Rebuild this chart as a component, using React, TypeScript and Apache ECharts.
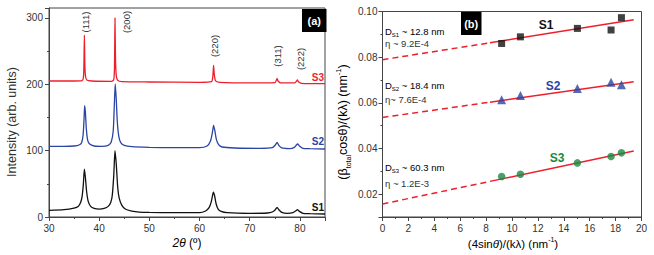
import React, { useEffect, useRef } from 'react';
import * as echarts from 'echarts';

// ---------- Panel (a): XRD patterns, [2θ, intensity] ----------
const xrdS1: [number, number][] = [
  [30, 10], [33, 11], [35, 13.5], [35.8, 16], [36.3, 22], [36.6, 31], [36.85, 50], [37.05, 72],
  [37.25, 60], [37.5, 38], [37.8, 24], [38.3, 16], [39, 13], [40, 12], [41, 13], [41.8, 16],
  [42.3, 22], [42.6, 32], [42.9, 62], [43.15, 100], [43.4, 80], [43.7, 44], [44.0, 28], [44.5, 18],
  [45.2, 12], [46.5, 9], [48, 7.5], [50, 7], [55, 6.5], [60, 6.5], [61.2, 9], [61.9, 14], [62.3, 22],
  [62.55, 31], [62.75, 37.5], [63.0, 32], [63.3, 20], [63.7, 12], [64.3, 8.5], [65.5, 6.5], [70, 5.5],
  [73.5, 6], [74.5, 7.5], [75.1, 11], [75.45, 14.5], [75.8, 11], [76.4, 7], [77.5, 5.5], [78.6, 6.5],
  [79.2, 9.5], [79.5, 11], [79.9, 8.5], [80.6, 5.5], [82, 5], [85, 4.5],
];
const xrdS2: [number, number][] = [
  [30, 106.5], [33, 106.5], [35, 107], [36, 108.5], [36.5, 112], [36.8, 124], [37.0, 150], [37.1, 168],
  [37.25, 158], [37.45, 132], [37.7, 116], [38.1, 110], [39, 107], [40.5, 106.5], [41.8, 108], [42.4, 113],
  [42.8, 130], [43.0, 165], [43.2, 200.5], [43.4, 178], [43.6, 145], [43.9, 122], [44.3, 112], [45, 108],
  [46.5, 106], [50, 105], [55, 104.5], [60, 104.5], [61.5, 107], [62.2, 115], [62.55, 127], [62.8, 138],
  [63.05, 130], [63.35, 117], [63.8, 109], [64.5, 105.5], [67, 104], [72, 103.5], [74.5, 104.5],
  [75.1, 108.5], [75.45, 112.5], [75.8, 108], [76.4, 104], [78, 103], [78.9, 105], [79.3, 108.5],
  [79.55, 110], [79.9, 107], [80.6, 103.5], [82, 103], [85, 102.5],
];
const xrdS3: [number, number][] = [
  [30, 205], [35, 205], [36.6, 205.5], [36.85, 210], [36.95, 225], [37.05, 274], [37.15, 228], [37.3, 211],
  [37.6, 206], [38.5, 205], [42.5, 204.5], [42.9, 207], [43.05, 225], [43.15, 300], [43.25, 240],
  [43.4, 213], [43.7, 206], [44.5, 204], [50, 203.5], [60, 203], [62.4, 204], [62.65, 212], [62.8, 228.5],
  [62.95, 214], [63.2, 205], [64, 203], [70, 202], [75, 202.5], [75.3, 206], [75.45, 209], [75.65, 205],
  [76.2, 202], [79, 202], [79.35, 205], [79.5, 206.5], [79.7, 204], [80.3, 201.5], [85, 201],
];
const hklLabels = ['(111)', '(200)', '(220)', '(311)', '(222)'];
const sampleNames = ['S1', 'S2', 'S3'];

// ---------- Panel (b): Williamson-Hall plot ----------
const whX = [9.2, 10.65, 15.05, 17.65, 18.45];
const whS1 = [0.086, 0.0889, 0.0926, 0.0919, 0.0973];
const whS2 = [0.0613, 0.0632, 0.0663, 0.069, 0.0679];
const whS3 = [0.0277, 0.0287, 0.0337, 0.0365, 0.0381];
const fitX = [0, 8.3, 19.4];
const fitS1 = [0.0789, 0.0863, 0.0964];
const fitS2 = [0.0536, 0.0603, 0.0692];
const fitS3 = [0.0157, 0.0256, 0.0389];
const sizeTexts = [' ~ 12.8 nm', ' ~ 18.4 nm', ' ~ 60.3 nm'];
const strainTexts = ['η ~ 9.2E-4', 'η~ 7.6E-4', 'η ~ 1.2E-3'];

const FONT = '"Liberation Sans", Arial, Helvetica, sans-serif';
const TXT = '#333';
const AX = '#444';
const RED = '#ee1f2b';
const BLUE = '#2b45a3';
const GREEN = '#168a3e';
const BLACK = '#111';

function pairs(xs: number[], ys: number[]) {
  return xs.map((x, i) => [x, ys[i]]);
}

function axisCommon() {
  return {
    axisLine: { show: true, onZero: false, lineStyle: { color: AX, width: 1 } },
    axisTick: { show: true, inside: false, length: 4, lineStyle: { color: AX } },
    minorTick: { show: true, splitNumber: 2, length: 2, lineStyle: { color: AX } },
    splitLine: { show: false },
    axisLabel: { color: TXT, fontSize: 10, fontFamily: FONT, margin: 6 },
  };
}

export default function App() {
  const ref = useRef<HTMLDivElement>(null);
  useEffect(() => {
    if (!ref.current) return;
    const chart = echarts.init(ref.current, undefined, { renderer: 'svg' });

    const fitLine = (data: number[], solid: boolean) => ({
      type: 'line',
      xAxisIndex: 1,
      yAxisIndex: 1,
      showSymbol: false,
      silent: true,
      z: 2,
      data: solid
        ? [[fitX[1], data[1]], [fitX[2], data[2]]]
        : [[fitX[0], data[0]], [fitX[1], data[1]]],
      lineStyle: { color: RED, width: 1.5, type: solid ? 'solid' : [6, 4] },
    });

    const xrdLine = (data: [number, number][], color: string) => ({
      type: 'line',
      xAxisIndex: 0,
      yAxisIndex: 0,
      showSymbol: false,
      smooth: 0.2,
      data,
      lineStyle: { color, width: 1.3 },
    });

    const scatter = (ys: number[], symbol: string, color: string, size: number) => ({
      type: 'scatter',
      xAxisIndex: 1,
      yAxisIndex: 1,
      symbol,
      symbolSize: size,
      z: 5,
      data: pairs(whX, ys),
      itemStyle: { color },
    });

    const hklPos = [
      [85, 22], [126, 22], [214, 46], [277, 56], [300, 59],
    ];
    const sPosA = [[324, 207], [324, 141], [324, 77]];
    const sColA = [BLACK, BLUE, RED];
    const sPosB = [[546, 25], [553, 86], [557, 158]];
    const sColB = [BLACK, BLUE, GREEN];
    const dPos = [[385, 31], [385, 85], [385, 167]];
    const etaPos = [[385, 43], [385, 99], [385, 183]];

    const graphics: any[] = [];
    hklLabels.forEach((t, i) => {
      graphics.push({
        type: 'text', x: hklPos[i][0], y: hklPos[i][1], rotation: Math.PI / 2,
        style: { text: t, fill: TXT, font: `9.5px ${FONT}`, align: 'center', verticalAlign: 'middle' },
      });
    });
    sampleNames.forEach((t, i) => {
      graphics.push({
        type: 'text', x: sPosA[i][0], y: sPosA[i][1],
        style: { text: t, fill: sColA[i], font: `bold 10px ${FONT}`, align: 'right', verticalAlign: 'middle' },
      });
      graphics.push({
        type: 'text', x: sPosB[i][0], y: sPosB[i][1],
        style: { text: t, fill: sColB[i], font: `bold 12px ${FONT}`, align: 'center', verticalAlign: 'middle' },
      });
      graphics.push({
        type: 'text', x: dPos[i][0], y: dPos[i][1],
        style: {
          text: `{m|D}{s|${t}}{m|${sizeTexts[i]}}`,
          align: 'left', verticalAlign: 'middle',
          rich: {
            m: { fontSize: 9.5, fontFamily: FONT, color: TXT, lineHeight: 14 },
            s: { fontSize: 6, fontFamily: FONT, color: TXT, lineHeight: 7, verticalAlign: 'bottom' },
          },
        },
      });
      graphics.push({
        type: 'text', x: etaPos[i][0], y: etaPos[i][1],
        style: { text: strainTexts[i], fill: TXT, font: `9.5px ${FONT}`, align: 'left', verticalAlign: 'middle' },
      });
    });
    // panel tags
    graphics.push({ type: 'rect', shape: { x: 302, y: 9, width: 24.5, height: 23 }, style: { fill: '#000' } });
    graphics.push({
      type: 'text', x: 314.2, y: 20.5,
      style: { text: '(a)', fill: '#fff', font: `bold 11px ${FONT}`, align: 'center', verticalAlign: 'middle' },
    });
    graphics.push({ type: 'rect', shape: { x: 461, y: 12, width: 20.5, height: 23 }, style: { fill: '#000' } });
    graphics.push({
      type: 'text', x: 471.2, y: 23.5,
      style: { text: '(b)', fill: '#fff', font: `bold 11px ${FONT}`, align: 'center', verticalAlign: 'middle' },
    });
    // axis titles
    graphics.push({
      type: 'text', x: 12, y: 122, rotation: Math.PI / 2,
      style: { text: 'Intensity (arb. units)', fill: TXT, font: `12.5px ${FONT}`, align: 'center', verticalAlign: 'middle' },
    });
    graphics.push({
      type: 'text', x: 187, y: 243,
      style: {
        text: '{i|2θ}{n| (º)}', align: 'center', verticalAlign: 'middle',
        rich: {
          i: { fontSize: 12, fontStyle: 'italic', fontFamily: FONT, color: TXT },
          n: { fontSize: 12, fontFamily: FONT, color: TXT },
        },
      },
    });
    graphics.push({
      type: 'text', x: 513, y: 244,
      style: {
        text: '{n|(4sin}{i|θ}{n|)/(kλ) (nm}{p|-1}{n|)}', align: 'center', verticalAlign: 'middle',
        rich: {
          n: { fontSize: 11.5, fontFamily: FONT, color: TXT, lineHeight: 16 },
          i: { fontSize: 11.5, fontStyle: 'italic', fontFamily: FONT, color: TXT, lineHeight: 16 },
          p: { fontSize: 7, fontFamily: FONT, color: TXT, lineHeight: 9, verticalAlign: 'top' },
        },
      },
    });
    graphics.push({
      type: 'text', x: 343, y: 122, rotation: Math.PI / 2,
      style: {
        text: '{n|(β}{s|total}{n|cosθ)/(kλ) (nm}{p|-1}{n|)}', align: 'center', verticalAlign: 'middle',
        rich: {
          n: { fontSize: 12.5, fontFamily: FONT, color: TXT, lineHeight: 18 },
          s: { fontSize: 7, fontFamily: FONT, color: TXT, lineHeight: 8, verticalAlign: 'bottom' },
          p: { fontSize: 7.5, fontFamily: FONT, color: TXT, lineHeight: 9, verticalAlign: 'top' },
        },
      },
    });

    const option: any = {
      animation: false,
      backgroundColor: '#fff',
      grid: [
        { left: 49, top: 8, width: 276, height: 209, show: true, borderColor: AX, borderWidth: 1 },
        { left: 382.5, top: 11.5, width: 259, height: 205.5, show: true, borderColor: AX, borderWidth: 1 },
      ],
      xAxis: [
        {
          type: 'value', gridIndex: 0, min: 30, max: 85, interval: 10, ...axisCommon(),
          axisLabel: { ...axisCommon().axisLabel, showMaxLabel: false },
        },
        { type: 'value', gridIndex: 1, min: 0, max: 20, interval: 2, ...axisCommon() },
      ],
      yAxis: [
        {
          type: 'value', gridIndex: 0, min: 0, max: 315, interval: 100, ...axisCommon(),
          axisLabel: { ...axisCommon().axisLabel, showMaxLabel: false },
        },
        {
          type: 'value', gridIndex: 1, min: 0.01, max: 0.1, splitNumber: 5, ...axisCommon(),
          axisLabel: {
            ...axisCommon().axisLabel, margin: 5, showMinLabel: false,
            formatter: (v: number) => v.toFixed(2),
          },
        },
      ],
      series: [
        xrdLine(xrdS1, BLACK),
        xrdLine(xrdS2, BLUE),
        xrdLine(xrdS3, RED),
        fitLine(fitS1, false), fitLine(fitS1, true),
        fitLine(fitS2, false), fitLine(fitS2, true),
        fitLine(fitS3, false), fitLine(fitS3, true),
        scatter(whS1, 'rect', BLACK, 7),
        scatter(whS2, 'triangle', BLUE, 9),
        scatter(whS3, 'circle', GREEN, 7.5),
      ],
      graphic: graphics,
    };
    chart.setOption(option);
    return () => chart.dispose();
  }, []);

  return (
    <div
      ref={ref}
      style={{ width: 654, height: 255, position: 'absolute', left: 0, top: 0, background: '#fff' }}
    />
  );
}
